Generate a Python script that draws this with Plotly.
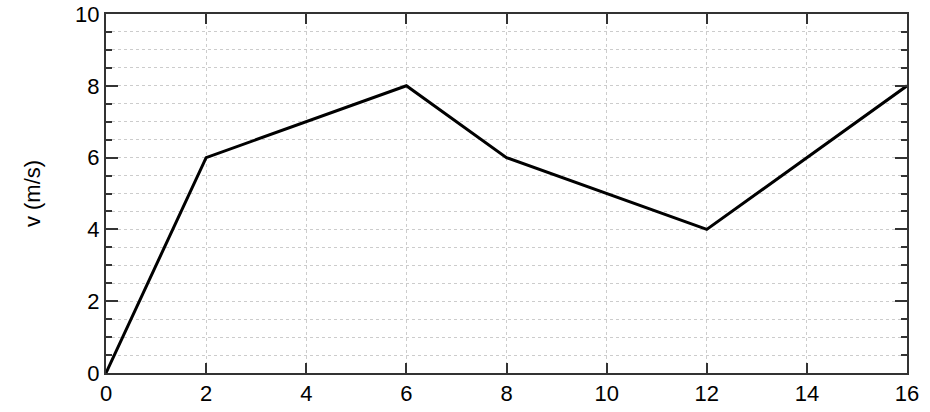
import plotly.graph_objects as go

# Velocity vs time data
t_vals = [0, 2, 6, 8, 12, 16]
v_vals = [0, 6, 8, 6, 4, 8]

x_ticks = [0, 2, 4, 6, 8, 10, 12, 14, 16]
y_ticks = [0, 2, 4, 6, 8, 10]

fig = go.Figure()

fig.add_trace(go.Scatter(
    x=t_vals, y=v_vals,
    mode="lines",
    line=dict(color="black", width=3),
    showlegend=False,
    hoverinfo="skip"
))

axis_font = dict(family="Liberation Sans, Arial, sans-serif", size=22, color="black")
grid_color = "#cccccc"

fig.update_xaxes(
    range=[0, 16],
    tickvals=x_ticks,
    ticks="inside", ticklen=10, tickwidth=2, tickcolor="#333",
    showline=True, linewidth=2, linecolor="#333", mirror="ticks",
    showgrid=True, gridcolor=grid_color, gridwidth=1, griddash="dot",
    zeroline=False,
    tickfont=axis_font,
    automargin=False,
)
fig.update_yaxes(
    range=[0, 10],
    tickvals=y_ticks,
    ticks="inside", ticklen=12, tickwidth=2, tickcolor="#333",
    showline=True, linewidth=2, linecolor="#333", mirror="ticks",
    showgrid=True, gridcolor=grid_color, gridwidth=1, griddash="dot",
    zeroline=False,
    minor=dict(dtick=0.5, ticks="inside", ticklen=6, tickwidth=2, tickcolor="#333",
               showgrid=True, gridcolor=grid_color, gridwidth=1, griddash="dot"),
    tickfont=axis_font,
    title=dict(text="v (m/s)", font=axis_font, standoff=28),
    automargin=False,
)

fig.update_layout(
    width=930, height=412,
    margin=dict(l=106, r=23, t=14, b=39),
    plot_bgcolor="white", paper_bgcolor="white",
)

# drop the default body margin so the 930x412 figure fills the window exactly
fig.write_html(
    "out.html",
    config={"displayModeBar": False},
    post_script="document.body.style.margin='0';",
)
